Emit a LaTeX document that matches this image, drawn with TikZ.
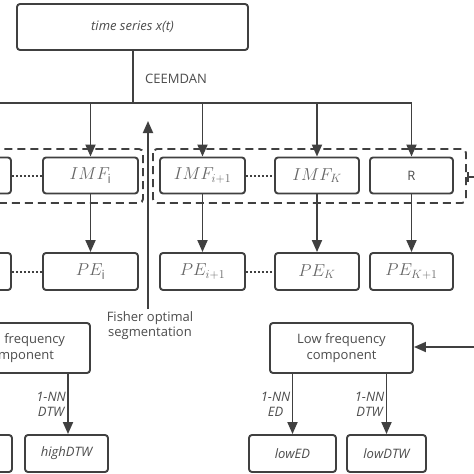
\documentclass[tikz,border=0pt]{standalone}
\usepackage{fontspec}
\setmainfont{Open Sans}
\usetikzlibrary{arrows.meta}
\definecolor{lc}{HTML}{404040}
\definecolor{tc}{HTML}{4C4C4C}
\definecolor{mc}{HTML}{666666}
\begin{document}
\begin{tikzpicture}[x=1pt,y=-1pt,
  box/.style={draw=lc, line width=1.9pt, rounded corners=3pt, inner sep=0pt, text=tc, font=\fontsize{13}{15.5}\selectfont, align=center},
  mbox/.style={box, text=mc, font=\fontsize{18}{20}\selectfont},
  arr/.style={draw=lc, line width=1.8pt, -{Triangle[width=10pt,length=12pt]}},
  ln/.style={draw=lc, line width=1.8pt},
  dashbox/.style={draw=lc, line width=1.9pt, dash pattern=on 8pt off 5pt, rounded corners=4pt},
  dotln/.style={draw=lc, line width=2pt, dash pattern=on 2pt off 2pt},
  lbl/.style={text=tc, font=\fontsize{13}{15}\selectfont, align=center, inner sep=0pt}]
\useasboundingbox (0,0) rectangle (474,474);
\fill[white] (0,0) rectangle (474,474);

% top
\node[box, minimum width=231pt, minimum height=46pt] (top) at (132.5,27) {\itshape time series x(t)};
\coordinate (busc) at (133,103);
\coordinate (busl) at (0,103);
\coordinate (busr) at (412,103);
\draw[ln] (top.south -| busc) -- (busc);
\draw[ln] (busl) -- (busr);
\node[lbl, anchor=west] (ceemdan) at (145,79) {CEEMDAN};

% dashed groups
\draw[dashbox] (-70,149) rectangle (143,203);
\draw[dashbox] (153,149) rectangle (466,203);

% IMF row
\node[mbox, minimum width=72pt, minimum height=36pt] (imf0) at (-25,175.5) {};
\node[mbox, minimum width=95pt, minimum height=36pt] (imfi) at (90.5,175.5) {$IMF_{\mathrm{i}}$};
\node[mbox, minimum width=85pt, minimum height=36pt] (imfi1) at (202.5,175.5) {$IMF_{i+1}$};
\node[mbox, minimum width=84pt, minimum height=36pt] (imfk) at (317,175.5) {$IMF_{K}$};
\node[box, minimum width=83pt, minimum height=36pt] (res) at (411.5,175.5) {R};

% PE row
\node[mbox, minimum width=72pt, minimum height=37pt] (pe0) at (-25,271.5) {};
\node[mbox, minimum width=95pt, minimum height=37pt] (pei) at (90.5,271.5) {$PE_{\mathrm{i}}$};
\node[mbox, minimum width=85pt, minimum height=37pt] (pei1) at (202.5,271.5) {$PE_{i+1}$};
\node[mbox, minimum width=84pt, minimum height=37pt] (pek) at (317,271.5) {$PE_{K}$};
\node[mbox, minimum width=83pt, minimum height=37pt] (pek1) at (411.5,271.5) {$PE_{K+1}$};

% arrows from bus
\foreach \n in {imfi,imfi1,imfk,res} \draw[arr] (busl -| \n.north) -- (\n.north);
\draw[arr] (imfi) -- (pei);
\draw[arr] (imfi1) -- (pei1);
\draw[arr] (imfk) -- (pek);
\draw[arr] (res) -- (pek1);

% dotted
\draw[dotln] (imf0.east) -- (imfi.west);
\draw[dotln] (imfi1.east) -- (imfk.west);
\draw[dotln] (pe0.east) -- (pei.west);
\draw[dotln] (pei1.east) -- (pek.west);

% Fisher
\coordinate (fb) at (148,309);
\coordinate (ft) at (148,121);
\draw[arr] (fb) -- (ft);
\node[lbl] (fisher) at (150,325.5) {Fisher optimal\\segmentation};

% right tick
\coordinate (tk1) at (468,172);
\coordinate (tk2) at (468,182);
\coordinate (tkm) at (468,177);
\coordinate (tke) at (474,177);
\draw[ln] (tk1) -- (tk2);
\draw[ln] (tkm) -- (tke);

% frequency components
\node[box, minimum width=142pt, minimum height=50pt] (high) at (19,348) {High frequency\\component};
\node[box, minimum width=143pt, minimum height=50pt] (low) at (341.5,348) {Low frequency\\component};
\coordinate (rin) at (474,347);
\draw[arr] (rin) -- (low.east |- rin);

% bottom boxes
\node[box, minimum width=84pt, minimum height=37pt] (hx) at (-30,453.5) {};
\node[box, minimum width=83pt, minimum height=37pt] (hd) at (66.5,453.5) {\itshape highDTW};
\node[box, minimum width=87pt, minimum height=37pt] (le) at (292.5,453.5) {\itshape lowED};
\node[box, minimum width=79pt, minimum height=37pt] (ld) at (386.5,453.5) {\itshape lowDTW};

\coordinate (ha) at (68,0);
\draw[arr] (high.south -| ha) -- (hd.north -| ha);
\draw[arr] (low.south -| le.north) -- (le.north);
\draw[arr] (low.south -| ld.north) -- (ld.north);

\node[lbl, anchor=east, font=\fontsize{13}{15}\selectfont\itshape] (l1) at (66,404.5) {1-NN\\DTW};
\node[lbl, anchor=east, font=\fontsize{13}{15}\selectfont\itshape] (l2) at (290.5,404.5) {1-NN\\ED};
\node[lbl, anchor=east, font=\fontsize{13}{15}\selectfont\itshape] (l3) at (384.5,404.5) {1-NN\\DTW};
\end{tikzpicture}
\end{document}
